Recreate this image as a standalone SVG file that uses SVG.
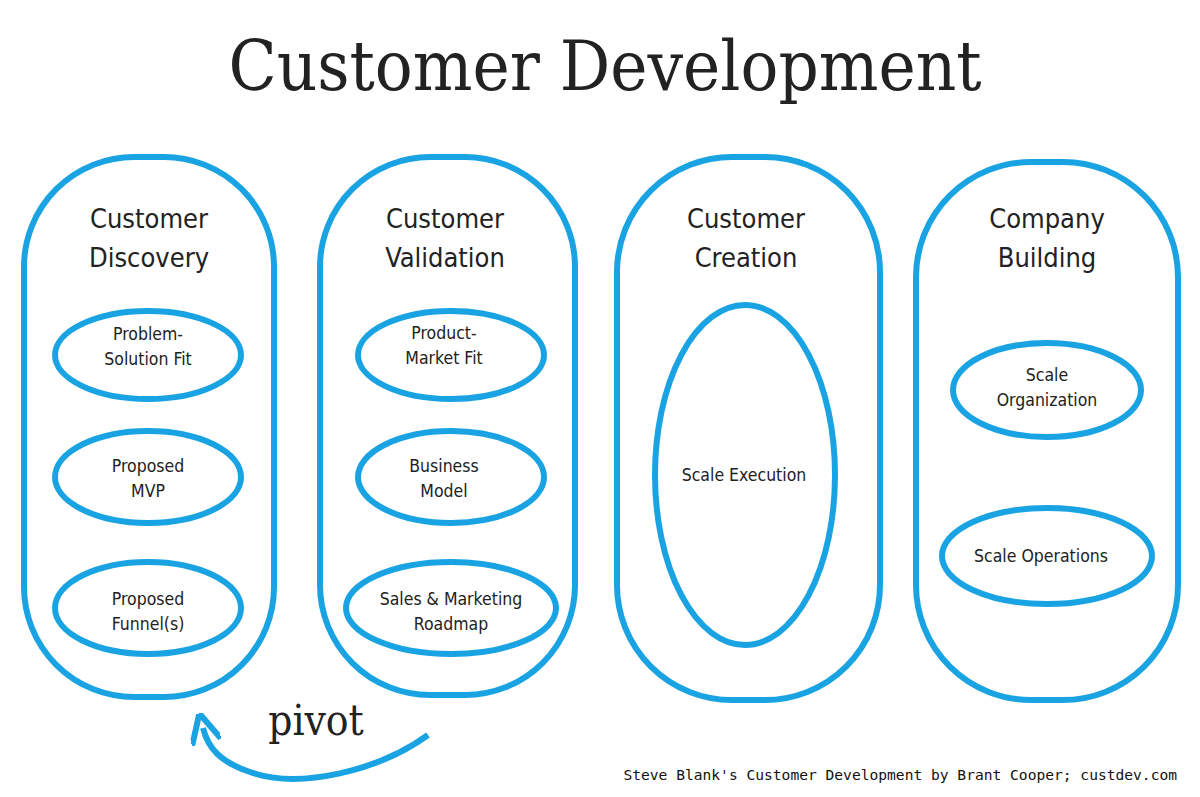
<svg xmlns="http://www.w3.org/2000/svg" width="1200" height="797" viewBox="0 0 1200 797">
<style>
.b{fill:none;stroke:#1aa3e3;stroke-width:6}
.h{font-family:"DejaVu Sans Condensed","Liberation Sans",sans-serif;font-size:27px;fill:#222;text-anchor:middle}
.l{font-family:"DejaVu Sans Condensed","Liberation Sans",sans-serif;font-size:17.5px;fill:#222;text-anchor:middle}
</style>
<defs><marker id="ah" viewBox="0 0 10 10" refX="5" refY="5" markerWidth="5" markerHeight="5" orient="auto"><path d="M0,0 L10,5 L0,10" fill="none" stroke="#1aa3e3" stroke-width="2"/></marker></defs>
<rect width="1200" height="797" fill="#fff"/>
<text x="605" y="90" font-family="'DejaVu Serif Condensed','Liberation Serif',serif" font-size="70" fill="#222" text-anchor="middle">Customer Development</text>
<g id="discovery">
<rect class="b" x="24" y="157" width="250" height="540" rx="110"/>
<text class="h" x="149" y="228">Customer</text><text class="h" x="149" y="267">Discovery</text>
<ellipse class="b" cx="148" cy="355" rx="93" ry="44"/><text class="l" x="148" y="334" dy="6">Problem-</text><text class="l" x="148" y="359" dy="6">Solution Fit</text>
<ellipse class="b" cx="148" cy="477" rx="93" ry="46"/><text class="l" x="148" y="466" dy="6">Proposed</text><text class="l" x="148" y="491" dy="6">MVP</text>
<ellipse class="b" cx="148" cy="608" rx="93" ry="46"/><text class="l" x="148" y="599" dy="6">Proposed</text><text class="l" x="148" y="624" dy="6">Funnel(s)</text>
</g>
<g id="validation">
<rect class="b" x="320" y="157" width="255" height="538" rx="110"/>
<text class="h" x="445" y="228">Customer</text><text class="h" x="445" y="267">Validation</text>
<ellipse class="b" cx="451" cy="355" rx="93" ry="44"/><text class="l" x="444" y="333" dy="6">Product-</text><text class="l" x="444" y="358" dy="6">Market Fit</text>
<ellipse class="b" cx="451" cy="477" rx="93" ry="46"/><text class="l" x="444" y="466" dy="6">Business</text><text class="l" x="444" y="491" dy="6">Model</text>
<ellipse class="b" cx="451" cy="608" rx="105" ry="46"/><text class="l" x="451" y="599" dy="6">Sales &amp; Marketing</text><text class="l" x="451" y="624" dy="6">Roadmap</text>
</g>
<g id="creation">
<rect class="b" x="617" y="157" width="263" height="543" rx="115"/>
<text class="h" x="746" y="228">Customer</text><text class="h" x="746" y="267">Creation</text>
<ellipse class="b" cx="745" cy="475" rx="90" ry="170"/><text class="l" x="744" y="475" dy="6">Scale Execution</text>
</g>
<g id="building">
<rect class="b" x="916" y="162" width="262" height="538" rx="115"/>
<text class="h" x="1047" y="228">Company</text><text class="h" x="1047" y="267">Building</text>
<ellipse class="b" cx="1047" cy="390" rx="94" ry="47"/><text class="l" x="1047" y="375" dy="6">Scale</text><text class="l" x="1047" y="400" dy="6">Organization</text>
<ellipse class="b" cx="1047" cy="556" rx="105" ry="48"/><text class="l" x="1041" y="556" dy="6">Scale Operations</text>
</g>
<g id="connectors">
<path class="b" d="M428,735 C380,770 300,790 250,772 C220,762 208,748 203,728" marker-end="url(#ah)"/>
</g>
<text x="316" y="735" font-family="'DejaVu Serif Condensed','Liberation Serif',serif" font-size="42" fill="#222" text-anchor="middle">pivot</text>
<text x="1177" y="780" font-family="'DejaVu Sans Mono','Liberation Mono',monospace" font-size="14.6" fill="#111" text-anchor="end">Steve Blank's Customer Development by Brant Cooper; custdev.com</text>
</svg>
